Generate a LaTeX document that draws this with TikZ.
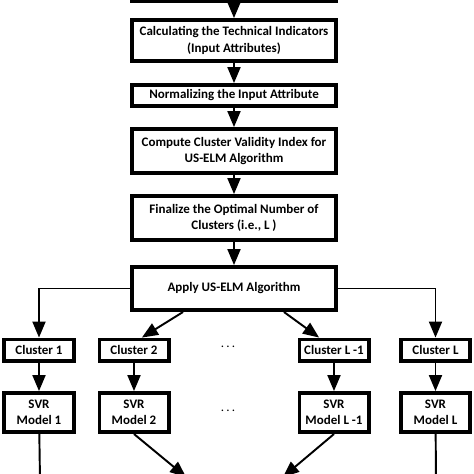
\documentclass[tikz,border=0pt]{standalone}
\usepackage{fontspec}
\setmainfont{Carlito}
\usetikzlibrary{arrows}
\tikzstyle{block} = [draw, line width=2pt, fill=white, minimum width=4.09cm, align=center, inner sep=1pt, font=\bfseries\fontsize{7.4}{9.3}\selectfont]
\tikzstyle{small} = [block, minimum width=1.39cm]
\tikzstyle{link} = [line width=1.1pt, -triangle 45]
\tikzstyle{wire} = [line width=1.1pt]

\begin{document}
\begin{tikzpicture}[x=0.02cm,y=-0.02cm]
\useasboundingbox (0,0) rectangle (474,474);
% main column
\node[block, minimum height=0.83cm] (data) at (234,-20) {};
\node[block, minimum height=0.83cm] (calc) at (234,40.5) {Calculating the Technical Indicators\\(Input Attributes)};
\node[block, minimum height=0.43cm] (norm) at (234,95.5) {Normalizing the Input Attribute};
\node[block, minimum height=0.89cm] (cvi) at (234,151) {Compute Cluster Validity Index for\\US-ELM Algorithm};
\node[block, minimum height=0.89cm] (final) at (234,218) {Finalize the Optimal Number of\\Clusters (i.e., L )};
\node[block, minimum height=0.87cm] (apply) at (234,288.5) {Apply US-ELM Algorithm};
% clusters
\node[small, minimum height=0.43cm] (c1) at (39,350) {Cluster 1};
\node[small, minimum height=0.43cm] (c2) at (134,350) {Cluster 2};
\node[small, minimum height=0.43cm] (cl1) at (334,350) {Cluster L -1};
\node[small, minimum height=0.43cm] (cl) at (435.5,350) {Cluster L};
\node[small, minimum height=0.79cm] (m1) at (39,412.5) {SVR\\Model 1};
\node[small, minimum height=0.79cm] (m2) at (134,412.5) {SVR\\Model 2};
\node[small, minimum height=0.79cm] (ml1) at (334,412.5) {SVR\\Model L -1};
\node[small, minimum height=0.79cm] (ml) at (435.5,412.5) {SVR\\Model L};
\node[font=\fontsize{7.4}{9.3}\selectfont] (dots1) at (228,347) {.\,.\,.};
\node[font=\fontsize{7.4}{9.3}\selectfont] (dots2) at (228,411) {.\,.\,.};
\coordinate (low1) at (40,480);
\coordinate (low2) at (186,477);
\coordinate (low3) at (283,477);
\coordinate (low4) at (436,480);

\draw[link] (data) -- (calc);
\draw[link] (calc) -- (norm);
\draw[link] (norm) -- (cvi);
\draw[link] (cvi) -- (final);
\draw[link] (final) -- (apply);
\draw[link] (apply.west) -| (c1.north);
\draw[link] (apply.east) -| (cl.north);
\draw[link] ([xshift=-1.02cm]apply.south) -- ([xshift=0.16cm]c2.north);
\draw[link] ([xshift=1cm]apply.south) -- ([xshift=-0.3cm]cl1.north);
\draw[link] (c1) -- (m1);
\draw[link] (c2) -- (m2);
\draw[link] (cl1) -- (ml1);
\draw[link] (cl) -- (ml);
\draw[wire] (m1) -- (low1);
\draw[link] (m2.south) -- (low2);
\draw[link] (ml1.south) -- (low3);
\draw[wire] (ml) -- (low4);
\end{tikzpicture}
\end{document}
